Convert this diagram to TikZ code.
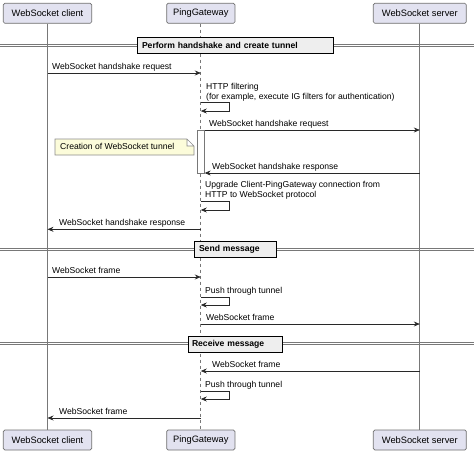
\documentclass[tikz,border=0pt]{standalone}
\usepackage{fontspec}
\setmainfont{Liberation Sans}
\usetikzlibrary{arrows.meta}
\definecolor{partfill}{RGB}{226,226,240}
\definecolor{partline}{RGB}{110,110,110}
\definecolor{msgline}{RGB}{40,40,40}
\definecolor{lifeline}{RGB}{120,120,120}
\definecolor{notefill}{RGB}{252,252,218}
\definecolor{noteline}{RGB}{140,140,140}
\definecolor{grpfill}{RGB}{238,238,238}
\newcommand\msgfont{\fontsize{8.6}{10}\selectfont}
\newcommand\partfont{\fontsize{9.3}{11}\selectfont}
\begin{document}
\begin{tikzpicture}[x=1pt,y=-1pt,
  part/.style={draw=partline,fill=partfill,line width=0.7pt,rounded corners=1.5pt,
    minimum height=20pt,inner sep=0pt,font=\partfont},
  life/.style={draw=lifeline,line width=0.7pt},
  msg/.style={draw=msgline,line width=0.7pt,-{Stealth[length=6pt,width=5pt,inset=2pt]}},
  lbl/.style={anchor=base west,inner sep=0pt,font=\msgfont},
  sep/.style={draw=lifeline,double=white,double distance=1.2pt,line width=0.9pt},
  grp/.style={draw,fill=grpfill,line width=1pt,anchor=west,align=left,
    minimum height=16pt,inner xsep=4.5pt,inner ysep=0pt,font=\bfseries\msgfont}]
\useasboundingbox (0,0) rectangle (474,453);
% participants
\node[part,minimum width=88.4pt] (c) at (47.5,13.3) {WebSocket client};
\node[part,minimum width=68.3pt] (g) at (200.8,13.3) {PingGateway};
\node[part,minimum width=93pt] (s) at (419.8,13.3) {WebSocket server};
\node[part,minimum width=88.4pt] (c2) at (47.5,440) {WebSocket client};
\node[part,minimum width=68.3pt] (g2) at (200.8,440) {PingGateway};
\node[part,minimum width=93pt] (s2) at (419.8,440) {WebSocket server};
% separators
\draw[sep] (0,45.2) -- (474,45.2);
\draw[sep] (0,249.3) -- (474,249.3);
\draw[sep] (0,343.7) -- (474,343.7);
% lifelines
\draw[life] (c.south) -- (c2.north);
\draw[life,dash pattern=on 3pt off 3pt] (g.south) -- (g2.north);
\draw[life] (s.south) -- (s2.north);
\node[grp,text width=187pt] (p1) at (137,45) {Perform handshake and create tunnel};
\node[grp,text width=72.5pt] (p2) at (194,249) {Send message};
\node[grp,inner xsep=3.5pt,text width=87pt] (p3) at (188,344) {Receive message};
% rows
\coordinate (r1) at (0,73);
\coordinate (r4) at (0,130);
\coordinate (r6) at (0,173);
\coordinate (r8) at (0,229.3);
\coordinate (r10) at (0,277);
\coordinate (r12) at (0,324);
\coordinate (r14) at (0,371);
\coordinate (r16) at (0,418);
\coordinate (l1) at (229,102);   \coordinate (l1b) at (229,111);
\coordinate (l2) at (229,201.7); \coordinate (l2b) at (229,210);
\coordinate (l3) at (229,297);   \coordinate (l3b) at (229,305);
\coordinate (l4) at (229,391.5); \coordinate (l4b) at (229,399);
% handshake
\draw[msg] (c |- r1) -- (g |- r1);
\node[lbl] (m1) at (52,69) {WebSocket handshake request};
\draw[msg] (g |- l1) -- (l1) -- (l1b) -- (g |- l1b);
\node[lbl,align=left] (m2) at (206,99) {HTTP filtering\\(for example, execute IG filters for authentication)};
\node[draw=lifeline,fill=white,line width=0.7pt,minimum width=6.6pt,minimum height=43pt,inner sep=0pt] (act) at (201,151.5) {};
\draw[msg] (act.east |- r4) -- (s |- r4);
\node[lbl] (m4) at (209,126) {WebSocket handshake request};
\draw[draw=noteline,fill=notefill,line width=0.6pt] (55,139) -- (187,139) -- (194,146) -- (194,155) -- (55,155) -- cycle
  (187,139) -- (187,146) -- (194,146);
\node[lbl] (n) at (60,149.5) {Creation of WebSocket tunnel};
\draw[msg] (s |- r6) -- (act.east |- r6);
\node[lbl] (m6) at (212,169) {WebSocket handshake response};
\draw[msg] (g |- l2) -- (l2) -- (l2b) -- (g |- l2b);
\node[lbl,align=left] (m7) at (205,197.5) {Upgrade Client-PingGateway connection from\\HTTP to WebSocket protocol};
\draw[msg] (g |- r8) -- (c |- r8);
\node[lbl] (m8) at (59,225.3) {WebSocket handshake response};
% send
\draw[msg] (c |- r10) -- (g |- r10);
\node[lbl] (m10) at (52,273) {WebSocket frame};
\draw[msg] (g |- l3) -- (l3) -- (l3b) -- (g |- l3b);
\node[lbl] (m11) at (205,293) {Push through tunnel};
\draw[msg] (g |- r12) -- (s |- r12);
\node[lbl] (m12) at (206,320) {WebSocket frame};
% receive
\draw[msg] (s |- r14) -- (g |- r14);
\node[lbl] (m14) at (212,367) {WebSocket frame};
\draw[msg] (g |- l4) -- (l4) -- (l4b) -- (g |- l4b);
\node[lbl] (m15) at (205,387.5) {Push through tunnel};
\draw[msg] (g |- r16) -- (c |- r16);
\node[lbl] (m16) at (59,414) {WebSocket frame};
\end{tikzpicture}
\end{document}
